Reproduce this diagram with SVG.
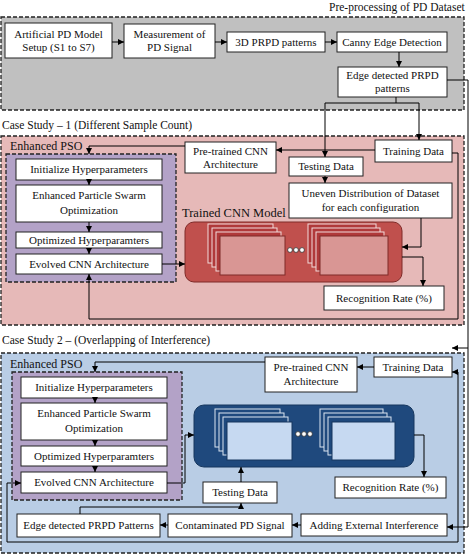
<svg xmlns="http://www.w3.org/2000/svg" width="474" height="555" viewBox="0 0 474 555" font-family="'Liberation Serif', 'DejaVu Serif', serif">
<defs>
<marker id="ah" viewBox="0 0 8 8" refX="8" refY="4" markerWidth="6" markerHeight="6" orient="auto-start-reverse" markerUnits="userSpaceOnUse">
<path d="M0,0 L8,4 L0,8 z" fill="#000"/>
</marker>
<style>
text{font-family:'Liberation Serif','DejaVu Serif',serif;font-size:11px;fill:#111;text-anchor:middle}
.lbl{font-size:12px;text-anchor:start}
.box{fill:#fff;stroke:#222;stroke-width:1}
.dash{stroke:#222;stroke-width:1.3;stroke-dasharray:4,2}
.c{fill:none;stroke:#000;stroke-width:1}
.a{marker-end:url(#ah)}
.rb{fill:#b0393a;stroke:#f2dcdb;stroke-width:1}
.rf{fill:#d99694;stroke:#7f2a28;stroke-width:1}
.bb{fill:#1f497d;stroke:#dbe5f1;stroke-width:1}
.bf{fill:#c6d9f1;stroke:#17375e;stroke-width:1}
.dot{fill:#fff;stroke:#333;stroke-width:0.8}
</style>
</defs>

<!-- section backgrounds -->
<g id="sec-pre">
<rect x="1" y="17" width="463" height="93" fill="#c0c0c0" class="dash"/>
<text class="lbl" x="329" y="11" style="font-size:11.5px">Pre-processing of PD Dataset</text>
</g>
<g id="sec-case1">
<text class="lbl" x="2" y="129" style="font-size:11.5px">Case Study – 1 (Different Sample Count)</text>
<rect x="1" y="136" width="463" height="189" fill="#e6b9b8" class="dash"/>
<text class="lbl" x="10" y="150">Enhanced PSO</text>
</g>
<g id="sec-case2">
<text class="lbl" x="2" y="344" style="font-size:11.5px">Case Study 2 – (Overlapping of Interference)</text>
<rect x="1" y="353" width="463" height="200" fill="#b9cde5" class="dash"/>
<text class="lbl" x="10" y="368">Enhanced PSO</text>
</g>

<!-- purple PSO boxes -->
<g id="pso1">
<rect x="6" y="154" width="170" height="128" fill="#b3a2c7" class="dash"/>
</g>
<g id="pso2">
<rect x="12" y="372" width="170" height="128" fill="#b3a2c7" class="dash"/>
</g>

<!-- pre-processing nodes -->
<g id="n-artificial"><rect class="box" x="5" y="23" width="107" height="35"/><text x="58.5" y="38">Artificial PD Model</text><text x="58.5" y="51">Setup (S1 to S7)</text></g>
<g id="n-measure"><rect class="box" x="124" y="24" width="91" height="34"/><text x="169.5" y="38">Measurement of</text><text x="169.5" y="51">PD Signal</text></g>
<g id="n-3d"><rect class="box" x="227" y="32" width="98" height="20"/><text x="276" y="46">3D PRPD patterns</text></g>
<g id="n-canny"><rect class="box" x="337" y="32" width="110" height="20"/><text x="392" y="46">Canny Edge Detection</text></g>
<g id="n-edge"><rect class="box" x="338" y="67" width="109" height="30"/><text x="392.5" y="79">Edge detected PRPD</text><text x="392.5" y="92">patterns</text></g>

<!-- case 1 nodes -->
<g id="c1-pretrained"><rect class="box" x="185" y="142" width="91" height="31"/><text x="230.5" y="155">Pre-trained CNN</text><text x="230.5" y="168">Architecture</text></g>
<g id="c1-training"><rect class="box" x="375" y="140" width="77" height="22"/><text x="413.5" y="155">Training Data</text></g>
<g id="c1-testing"><rect class="box" x="289" y="157" width="74" height="19"/><text x="326" y="170">Testing Data</text></g>
<g id="c1-uneven"><rect class="box" x="289" y="183" width="163" height="35"/><text x="370.5" y="197">Uneven Distribution of Dataset</text><text x="370.5" y="211">for each configuration</text></g>
<g id="c1-init"><rect class="box" x="16" y="159" width="146" height="21"/><text x="89" y="173">Initialize Hyperparameters</text></g>
<g id="c1-epso"><rect class="box" x="16" y="185" width="146" height="37"/><text x="89" y="199">Enhanced Particle Swarm</text><text x="89" y="214">Optimization</text></g>
<g id="c1-opt"><rect class="box" x="16" y="232" width="146" height="16"/><text x="89" y="244">Optimized Hyperparamters</text></g>
<g id="c1-evolved"><rect class="box" x="16" y="254" width="146" height="20"/><text x="89" y="268">Evolved CNN Architecture</text></g>
<g id="c1-model">
<text class="lbl" x="182" y="217" style="font-size:12.5px">Trained CNN Model</text>
<rect x="185" y="222" width="217" height="60" rx="9" fill="#c0504d" stroke="#7f2a28" stroke-width="1"/>
<rect class="rb" x="208" y="224" width="65" height="39"/>
<rect class="rb" x="212" y="228" width="65" height="39"/>
<rect class="rb" x="216" y="232" width="65" height="39"/>
<rect class="rf" x="220" y="236" width="65" height="39"/>
<circle class="dot" cx="290" cy="250" r="2.4"/><circle class="dot" cx="296" cy="250" r="2.4"/><circle class="dot" cx="302" cy="250" r="2.4"/>
<rect class="rb" x="308" y="224" width="68" height="39"/>
<rect class="rb" x="312" y="228" width="68" height="39"/>
<rect class="rb" x="316" y="232" width="68" height="39"/>
<rect class="rf" x="320" y="236" width="68" height="39"/>
</g>
<g id="c1-recog"><rect class="box" x="324" y="286" width="120" height="24"/><text x="384" y="302">Recognition Rate (%)</text></g>

<!-- case 2 nodes -->
<g id="c2-pretrained"><rect class="box" x="265" y="357" width="92" height="35"/><text x="311" y="371">Pre-trained CNN</text><text x="311" y="385">Architecture</text></g>
<g id="c2-training"><rect class="box" x="374" y="357" width="78" height="20"/><text x="413" y="371">Training Data</text></g>
<g id="c2-init"><rect class="box" x="21" y="377" width="146" height="21"/><text x="94" y="391">Initialize Hyperparameters</text></g>
<g id="c2-epso"><rect class="box" x="21" y="403" width="146" height="37"/><text x="94" y="417">Enhanced Particle Swarm</text><text x="94" y="432">Optimization</text></g>
<g id="c2-opt"><rect class="box" x="21" y="446" width="146" height="20"/><text x="94" y="460">Optimized Hyperparamters</text></g>
<g id="c2-evolved"><rect class="box" x="21" y="472" width="146" height="21"/><text x="94" y="486">Evolved CNN Architecture</text></g>
<g id="c2-model">
<rect x="194" y="405" width="220" height="62" rx="10" fill="#1f497d" stroke="#17375e" stroke-width="1"/>
<rect class="bb" x="215" y="409" width="65" height="38"/>
<rect class="bb" x="219" y="413" width="65" height="38"/>
<rect class="bb" x="223" y="417" width="65" height="38"/>
<rect class="bf" x="227" y="422" width="65" height="38"/>
<circle class="dot" cx="298" cy="434" r="2.4"/><circle class="dot" cx="304" cy="434" r="2.4"/><circle class="dot" cx="310" cy="434" r="2.4"/>
<rect class="bb" x="320" y="409" width="63" height="38"/>
<rect class="bb" x="324" y="413" width="63" height="38"/>
<rect class="bb" x="328" y="417" width="63" height="38"/>
<rect class="bf" x="332" y="422" width="63" height="38"/>
</g>
<g id="c2-testing"><rect class="box" x="203" y="482" width="74" height="21"/><text x="240" y="496">Testing Data</text></g>
<g id="c2-recog"><rect class="box" x="335" y="477" width="111" height="21"/><text x="390.5" y="491">Recognition Rate (%)</text></g>
<g id="c2-edge"><rect class="box" x="17" y="514" width="143" height="23"/><text x="88.5" y="529">Edge detected PRPD Patterns</text></g>
<g id="c2-contam"><rect class="box" x="168" y="514" width="124" height="23"/><text x="230" y="529">Contaminated PD Signal</text></g>
<g id="c2-adding"><rect class="box" x="301" y="514" width="146" height="22"/><text x="374" y="529">Adding External Interference</text></g>

<!-- connectors -->
<g id="connectors">
<path class="c a" d="M112,42 H124"/>
<path class="c a" d="M215,42 H227"/>
<path class="c a" d="M325,42 H337"/>
<path class="c a" d="M399,52 V67"/>
<path class="c" d="M396,97 V103 M325,103 H419"/>
<path class="c a" d="M325,103 V157"/>
<path class="c a" d="M419,103 V140"/>
<path class="c" d="M447,80 H468 V527"/>
<path class="c a" d="M468,527 H447"/>
<path class="c a" d="M468,348 H452"/>
<path class="c a" d="M375,150 H276"/>
<path class="c a" d="M185,146 H89 V154"/>
<path class="c a" d="M325,176 V183"/>
<path class="c a" d="M421,218 V247 H402"/>
<path class="c a" d="M402,257 H423 V286"/>
<path class="c a" d="M162,264 H185"/>
<path class="c a" d="M452,153 H458 V319 H89 V274"/>
<path class="c a" d="M89,180 V185"/>
<path class="c a" d="M89,222 V232"/>
<path class="c a" d="M89,248 V254"/>
<path class="c a" d="M374,367 H357"/>
<path class="c a" d="M265,362 H95 V372"/>
<path class="c a" d="M95,398 V403"/>
<path class="c a" d="M95,440 V446"/>
<path class="c a" d="M95,466 V472"/>
<path class="c a" d="M167,483 H185 V435 H194"/>
<path class="c a" d="M414,435 H424 V477"/>
<path class="c a" d="M241,482 V467"/>
<path class="c a" d="M301,525 H292"/>
<path class="c a" d="M168,525 H160"/>
<path class="c a" d="M80,514 V507 H241 V503"/>
<path class="c a" d="M452,372 H458 V542 H7 V483 H21" style="marker-start:url(#ah)"/>
</g>
</svg>
